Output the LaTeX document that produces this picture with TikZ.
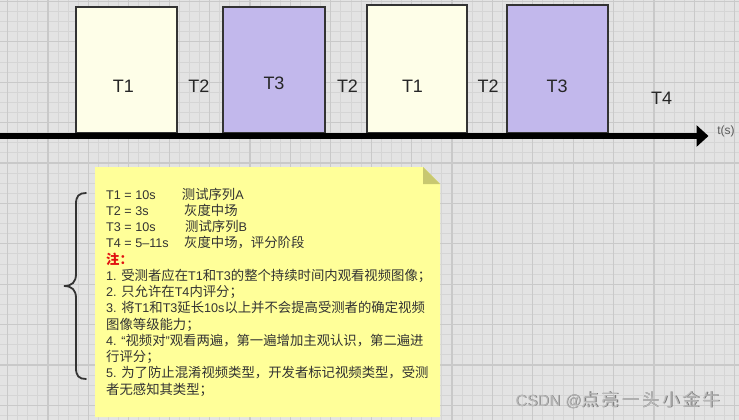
\documentclass[tikz,border=0pt]{standalone}
\usepackage{fontspec}
\setmainfont{Liberation Sans}
\newfontfamily\cjk{Noto Sans CJK SC}[Scale=1.06]
\usetikzlibrary{arrows.meta}
\definecolor{bgc}{HTML}{E3E3E3}
\definecolor{minorc}{HTML}{D5D5D5}
\definecolor{majorc}{HTML}{C9C9C9}
\definecolor{tonec}{HTML}{FEFEE8}
\definecolor{tthreec}{HTML}{C2B8EC}
\definecolor{edgec}{HTML}{333333}
\definecolor{notec}{HTML}{FFFF99}
\definecolor{foldc}{HTML}{C8C870}
\definecolor{notetext}{HTML}{333333}
\definecolor{notered}{HTML}{E01010}
\newcommand\zh[1]{{\cjk #1}}
\tikzset{
  minorline/.style={draw=minorc, line width=0.9pt},
  majorline/.style={draw=majorc, line width=1.1pt},
  slot/.style={draw=edgec, line width=1.4pt},
  lbl/.style={font=\fontsize{18}{20}\selectfont, text=black!85, inner sep=0pt},
  axisline/.style={line width=6.5pt, draw=black, -{Triangle[length=12pt,width=21pt]}},
  noteline/.style={anchor=base west, inner sep=0pt, text=notetext, font=\fontsize{12.6}{15}\selectfont},
  bracestyle/.style={draw=edgec, line width=1.8pt, line cap=round},
  wm/.style={inner sep=0pt, font=\fontsize{16}{18}\selectfont},
}
\newcommand\wmtext{CSDN @{\fontsize{16.6}{18}\selectfont\cjk 点\hspace{2.6pt}亮\hspace{2.6pt}一\hspace{2.6pt}头\hspace{2.6pt}小\hspace{2.6pt}金\hspace{2.6pt}牛}}
\begin{document}
\begin{tikzpicture}[x=1pt,y=-1pt]
\useasboundingbox (0,0) rectangle (739,420);
\fill[bgc] (0,0) rectangle (739,420);
% grid
\foreach \i in {0,...,72} {\draw[minorline] (7.6+10.1*\i,0) -- ++(0,420);}
\foreach \j in {0,...,41} {\draw[minorline] (0,1.4+10.1*\j) -- ++(739,0);}
\foreach \i in {0,4,...,72} {\draw[majorline] (7.6+10.1*\i,0) -- ++(0,420);}
\foreach \j in {0,4,...,41} {\draw[majorline] (0,1.4+10.1*\j) -- ++(739,0);}

% slots
\draw[slot, fill=tonec] (76,7) rectangle (177,133);
\draw[slot, fill=tthreec] (223,7) rectangle (325,133);
\draw[slot, fill=tonec] (367,5) rectangle (467,133);
\draw[slot, fill=tthreec] (507,5) rectangle (608,133);

% axis
\coordinate (axs) at (0,136);
\coordinate (axe) at (708.5,136);
\draw[axisline] (axs) -- (axe);
\node[inner sep=0pt, text=black!65, font=\fontsize{12}{14}\selectfont] (ts) at (726,131) {t(s)};

% labels
\node[lbl] (la) at (123.5,86) {T1};
\node[lbl] (lb) at (199,86) {T2};
\node[lbl] (lc) at (274,83) {T3};
\node[lbl] (ld) at (347.5,86) {T2};
\node[lbl] (le) at (412.5,86.5) {T1};
\node[lbl] (lf) at (488,86.5) {T2};
\node[lbl] (lg) at (557,86.5) {T3};
\node[lbl] (lh) at (661.5,98) {T4};

% note
\fill[notec] (95,167) -- (423,167) -- (440,184) -- (440,417) -- (95,417) -- cycle;
\fill[foldc] (423,167) -- (423,184) -- (440,184) -- cycle;

% brace
\draw[bracestyle] (86,193) .. controls (79,193) and (76,196) .. (76,204)
  -- (76,274) .. controls (76,282) and (72,286) .. (64,286)
  .. controls (72,286) and (76,290) .. (76,298)
  -- (76,368) .. controls (76,376) and (79,379) .. (86,379);

% note text
\node[noteline] (n1) at (106,199) {\makebox[75.7pt][l]{T1 = 10s}\zh{测试序列}A};
\node[noteline] (n2) at (106,215.25) {\makebox[78pt][l]{T2 = 3s}\zh{灰度中场}};
\node[noteline] (n3) at (106,231.5) {\makebox[79pt][l]{T3 = 10s}\zh{测试序列}B};
\node[noteline] (n4) at (106,247.75) {\makebox[78pt][l]{T4 = 5–11s}\zh{灰度中场，评分阶段}};
\node[noteline, text=notered] (n5) at (106,264) {\zh{\bfseries 注：}};
\node[noteline] (n6) at (106,280.25) {1. \zh{受测者应在}T1\zh{和}T3\zh{的整个持续时间内观看视频图像；}};
\node[noteline] (n7) at (106,296.5) {2. \zh{只允许在}T4\zh{内评分；}};
\node[noteline] (n8) at (106,312.75) {3. \zh{将}T1\zh{和}T3\zh{延长}10s\zh{以上并不会提高受测者的确定视频}};
\node[noteline] (n9) at (106,329) {\zh{图像等级能力；}};
\node[noteline] (n10) at (106,345.25) {4. “\zh{视频对}”\zh{观看两遍，第一遍增加主观认识，第二遍进}};
\node[noteline] (n11) at (106,361.5) {\zh{行评分；}};
\node[noteline] (n12) at (106,377.75) {5. \zh{为了防止混淆视频类型，开发者标记视频类型，受测}};
\node[noteline] (n13) at (106,394) {\zh{者无感知其类型；}};

% watermark
\node[wm, text=black!55] (wms) at (618.6,400.6) {\wmtext};
\node[wm, text=black!28] (wmf) at (618,400) {\wmtext};
\end{tikzpicture}
\end{document}
